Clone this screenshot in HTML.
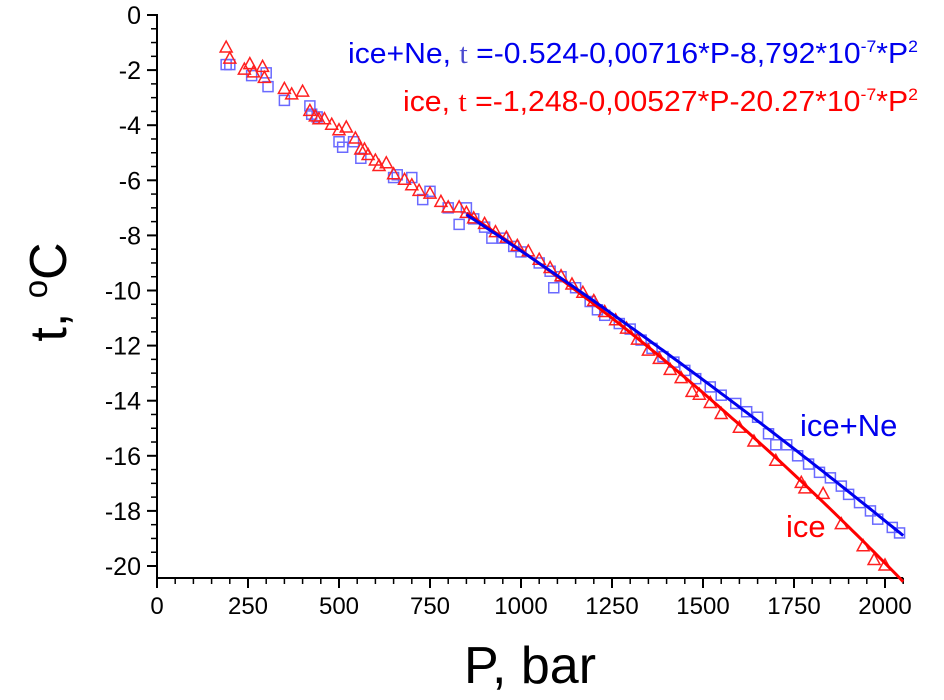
<!DOCTYPE html>
<html><head><meta charset="utf-8"><style>
html,body{margin:0;padding:0;background:#fff;}
svg{display:block;font-family:"Liberation Sans",sans-serif;}
</style></head><body>
<svg id="chart" width="944" height="700"></svg>
<script>
const iceP=[190,200,240,255,265,290,295,350,370,400,420,435,445,460,480,500,520,545,560,570,580,600,610,630,650,680,700,720,750,780,800,830,850,870,900,930,960,990,1020,1050,1080,1110,1140,1170,1200,1230,1260,1290,1320,1350,1380,1410,1440,1470,1490,1520,1550,1600,1640,1700,1770,1780,1830,1880,1940,1970,2000];
const iceT=[-1.2,-1.6,-2.0,-1.8,-2.1,-1.9,-2.3,-2.7,-2.9,-2.8,-3.5,-3.7,-3.8,-3.8,-4.0,-4.2,-4.1,-4.5,-4.9,-4.9,-5.1,-5.3,-5.5,-5.4,-5.8,-6.0,-6.2,-6.4,-6.5,-6.8,-7.0,-7.0,-7.2,-7.4,-7.6,-7.9,-8.1,-8.4,-8.6,-8.9,-9.2,-9.5,-9.8,-10.1,-10.4,-10.8,-11.1,-11.4,-11.8,-12.2,-12.5,-12.9,-13.2,-13.7,-13.8,-14.1,-14.5,-15.0,-15.5,-16.2,-17.0,-17.2,-17.4,-18.5,-19.3,-19.8,-20.0];
const neP=[190,200,260,300,305,350,420,425,440,500,510,540,560,650,660,700,730,750,800,830,850,870,900,920,950,980,1000,1050,1080,1090,1110,1150,1190,1210,1230,1270,1300,1330,1360,1390,1420,1450,1480,1520,1550,1590,1620,1650,1680,1700,1730,1760,1790,1820,1850,1880,1900,1930,1960,1980,2020,2040];
const neT=[-1.8,-1.8,-2.2,-2.1,-2.6,-3.1,-3.3,-3.6,-3.7,-4.6,-4.8,-4.6,-5.2,-5.9,-5.8,-5.9,-6.7,-6.4,-7.0,-7.6,-7.0,-7.4,-7.7,-8.1,-8.1,-8.4,-8.6,-9.0,-9.3,-9.9,-9.5,-9.9,-10.4,-10.7,-10.9,-11.2,-11.4,-11.8,-12.1,-12.4,-12.6,-12.9,-13.2,-13.5,-13.8,-14.1,-14.4,-14.6,-15.2,-15.6,-15.6,-16.0,-16.3,-16.6,-16.8,-17.1,-17.4,-17.7,-18.0,-18.3,-18.6,-18.8];
const fitNe=[-0.524,-0.00716,-8.792e-7];
const fitIce=[-1.248,-0.00527,-20.27e-7];
const fitRange=[850,2050];
const xTicks=[0,250,500,750,1000,1250,1500,1750,2000];
const yTicks=[0,-2,-4,-6,-8,-10,-12,-14,-16,-18,-20];

const NS="http://www.w3.org/2000/svg";
const svg=document.getElementById('chart');
const X0=157,XS=(885-157)/2000,Y0=15,YS=(566-15)/20;
const xs=p=>X0+p*XS, ys=t=>Y0-t*YS;
const AXY=578, AXR=xs(2050);
function el(tag,attrs,parent){const e=document.createElementNS(NS,tag);for(const k in attrs)e.setAttribute(k,attrs[k]);(parent||svg).appendChild(e);return e;}

const axes=el('g',{stroke:'#000','stroke-width':2,fill:'none'});


el('line',{x1:X0,y1:AXY,x2:AXR,y2:AXY},axes);
el('line',{x1:X0,y1:AXY,x2:X0,y2:Y0-1},axes);
for(let p=0;p<=2050;p+=50){const maj=p%250===0;el('line',{x1:xs(p),y1:AXY,x2:xs(p),y2:AXY+(maj?10:6),'stroke-width':maj?2:1.5},axes);}
for(let t=0;t>=-20.4;t-=0.5){const maj=Math.abs(t%2)<1e-9;el('line',{x1:X0,y1:ys(t),x2:X0-(maj?10:6),y2:ys(t),'stroke-width':maj?2:1.5},axes);}
xTicks.forEach(v=>{const t=el('text',{x:xs(v),y:614,'font-size':24,'text-anchor':'middle',fill:'#000'});t.textContent=v;

});
yTicks.forEach(v=>{const t=el('text',{x:141,y:ys(v)+9,'font-size':25,'text-anchor':'end',fill:'#000'});t.textContent=v;

});

const gNe=el('g',{fill:'none',stroke:'#6a6aff','stroke-width':1.5});


neP.forEach((p,i)=>el('rect',{x:xs(p)-5,y:ys(neT[i])-5,width:10,height:10},gNe));
const gIce=el('g',{fill:'none',stroke:'#ff2020','stroke-width':1.5});


iceP.forEach((p,i)=>{const x=xs(p),y=ys(iceT[i]);el('polygon',{points:`${x},${y-7} ${x-6},${y+4} ${x+6},${y+4}`},gIce);});

function fitPath(c){let d='';for(let p=fitRange[0];p<=fitRange[1];p+=10){const t=c[0]+c[1]*p+c[2]*p*p;d+=(d?'L':'M')+xs(p).toFixed(1)+','+ys(t).toFixed(1);}return d;}
const l1=el('path',{d:fitPath(fitIce),stroke:'#ff0000','stroke-width':3,fill:'none'});


const l2=el('path',{d:fitPath(fitNe),stroke:'#0000ee','stroke-width':3,fill:'none'});


</script>
<svg style="position:absolute;left:0;top:0" width="944" height="700">
<text x="918" y="63" font-size="29" textLength="570" lengthAdjust="spacingAndGlyphs" text-anchor="end" fill="#0000ee" font-family="Liberation Sans,sans-serif">ice+Ne, <tspan fill="#4a4ad0" font-family="Liberation Serif,serif">t</tspan> =-0.524-0,00716*P-8,792*10<tspan dy="-11" font-size="17">-7</tspan><tspan dy="11">*P</tspan><tspan dy="-11" font-size="17">2</tspan></text>
<text x="918" y="111" font-size="29" textLength="515" lengthAdjust="spacingAndGlyphs" text-anchor="end" fill="#ff0000" font-family="Liberation Sans,sans-serif">ice, <tspan font-family="Liberation Serif,serif">t</tspan> =-1,248-0,00527*P-20.27*10<tspan dy="-11" font-size="17">-7</tspan><tspan dy="11">*P</tspan><tspan dy="-11" font-size="17">2</tspan></text>
<text x="800" y="436" font-size="31" fill="#0000ee" font-family="Liberation Sans,sans-serif">ice+Ne</text>
<text x="786" y="537" font-size="31" fill="#ff0000" font-family="Liberation Sans,sans-serif">ice</text>
<text x="530" y="683" font-size="52" text-anchor="middle" fill="#000" font-family="Liberation Sans,sans-serif">P, bar</text>
<text transform="translate(66,292) rotate(-90)" font-size="52" text-anchor="middle" fill="#000" font-family="Liberation Sans,sans-serif">t, <tspan dy="-19" font-size="33">o</tspan><tspan dy="19">C</tspan></text>
</svg>
</body></html>
